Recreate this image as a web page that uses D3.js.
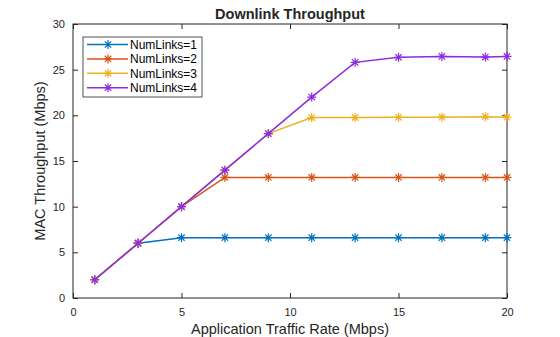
<!DOCTYPE html>
<html><head><meta charset="utf-8">
<script src="https://cdn.jsdelivr.net/npm/d3@7"></script>
<style>body{margin:0;background:#fff}svg{display:block}text{font-family:"Liberation Sans",Arial,sans-serif}</style>
</head><body><svg id="c" width="560" height="337"></svg>
<script>
const rates = [1,3,5,7,9,11,13,15,17,19,20];
const links1 = [2,6,6.6,6.6,6.6,6.6,6.6,6.6,6.6,6.6,6.6];
const links2 = [2,6,10,13.2,13.2,13.2,13.2,13.2,13.2,13.2,13.2];
const links3 = [2,6,10,14,18,19.75,19.75,19.78,19.8,19.85,19.8];
const links4 = [2,6,10,14,18,22,25.8,26.35,26.45,26.38,26.45];
const seriesNames = ["NumLinks=1","NumLinks=2","NumLinks=3","NumLinks=4"];
const colors = ["#0072BD","#D95319","#EDB120","#8B2BE2"];
const xTicks = [0,5,10,15,20];
const yTicks = [0,5,10,15,20,25,30];
const series = [links1,links2,links3,links4];

const svg = d3.select("#c");
const L=73,R=507,T=24,B=298;
const x = d3.scaleLinear().domain([0,20]).range([L,R]);
const y = d3.scaleLinear().domain([0,30]).range([B,T]);

const gx = svg.append("g").attr("transform",`translate(0,${B})`)
  .call(d3.axisBottom(x).tickValues(xTicks).tickSizeInner(-5).tickSizeOuter(0).tickPadding(10));
const gy = svg.append("g").attr("transform",`translate(${L},0)`)
  .call(d3.axisLeft(y).tickValues(yTicks).tickSizeInner(-5).tickSizeOuter(0).tickPadding(8));
const gxt = svg.append("g").attr("transform",`translate(0,${T})`)
  .call(d3.axisTop(x).tickValues(xTicks).tickSizeInner(-5).tickSizeOuter(0).tickFormat(""));
const gyr = svg.append("g").attr("transform",`translate(${R},0)`)
  .call(d3.axisRight(y).tickValues(yTicks).tickSizeInner(-5).tickSizeOuter(0).tickFormat(""));
[gx,gy,gxt,gyr].forEach(g=>{
  g.select(".domain").remove();
  g.selectAll("line").attr("stroke","#262626");
  g.selectAll("text").attr("fill","#262626").style("font-size","11px").style("font-family","'Liberation Sans',Arial,sans-serif");
});
svg.append("rect").attr("x",L).attr("y",T).attr("width",R-L).attr("height",B-T)
  .attr("fill","none").attr("stroke","#262626").attr("stroke-width",1);

const line = d3.line().x((d,i)=>x(rates[i])).y(d=>y(d));
const star = s => {
  const a = s/2, b = a*0.7071;
  return `M${-a},0L${a},0M0,${-a}L0,${a}M${-b},${-b}L${b},${b}M${-b},${b}L${b},${-b}`;
};
series.forEach((vals,k)=>{
  svg.append("path").datum(vals).attr("d",line).attr("fill","none")
    .attr("stroke",colors[k]).attr("stroke-width",1.5);
  svg.append("g").selectAll("path").data(vals).join("path")
    .attr("transform",(d,i)=>`translate(${x(rates[i])},${y(d)})`)
    .attr("d",star(9)).attr("stroke",colors[k]).attr("stroke-width",1.2).attr("fill","none");
});

const lg = svg.append("g");
lg.append("rect").attr("x",83).attr("y",37).attr("width",119).attr("height",60)
  .attr("fill","#fff").attr("stroke","#262626").attr("stroke-width",0.8);
seriesNames.forEach((n,k)=>{
  const yy = 44.5 + k*14.4;
  lg.append("line").attr("x1",87).attr("x2",128).attr("y1",yy).attr("y2",yy)
    .attr("stroke",colors[k]).attr("stroke-width",1.5);
  lg.append("path").attr("transform",`translate(108,${yy})`).attr("d",star(9))
    .attr("stroke",colors[k]).attr("stroke-width",1.2);
  lg.append("text").attr("x",130).attr("y",yy+4.3).text(n)
    .style("font-size","12px").attr("fill","#000");
});

svg.append("text").attr("x",(L+R)/2).attr("y",19).attr("text-anchor","middle")
  .style("font-size","14.5px").style("font-weight","bold").attr("fill","#262626").text("Downlink Throughput");
svg.append("text").attr("x",(L+R)/2).attr("y",334).attr("text-anchor","middle")
  .style("font-size","14.5px").attr("fill","#262626").text("Application Traffic Rate (Mbps)");
svg.append("text").attr("transform",`translate(45,${(T+B)/2}) rotate(-90)`).attr("text-anchor","middle")
  .style("font-size","14.5px").attr("fill","#262626").text("MAC Throughput (Mbps)");
</script></body></html>
